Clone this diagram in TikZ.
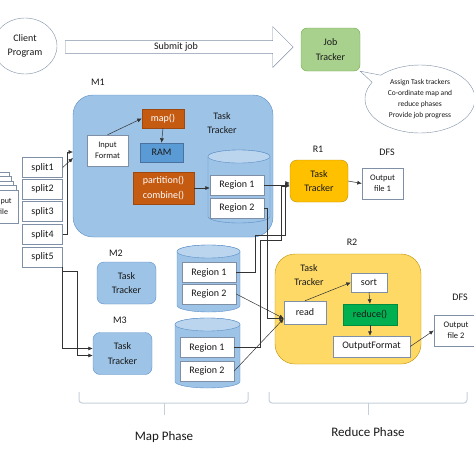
\documentclass[tikz,border=0pt]{standalone}
\usepackage{fontspec}
\setmainfont{Carlito}
\usetikzlibrary{positioning, calc, arrows.meta, shapes.geometric, shapes.arrows, shapes.callouts}

\definecolor{tbfill}{HTML}{9DC3E6}
\definecolor{tbdraw}{HTML}{5B8FC8}
\definecolor{ramfill}{HTML}{5B9BD5}
\definecolor{mapfill}{HTML}{C55A11}
\definecolor{rfill}{HTML}{FFC000}
\definecolor{rtwofill}{HTML}{FFD966}
\definecolor{rdraw}{HTML}{BF9000}
\definecolor{jtfill}{HTML}{A9D18E}
\definecolor{jtdraw}{HTML}{70AD47}
\definecolor{redfill}{HTML}{00B050}
\definecolor{boxdraw}{HTML}{7F8FA6}
\definecolor{bracecol}{HTML}{C5CED9}

\begin{document}
\begin{tikzpicture}[x=1pt, y=-1pt,
  every node/.style={font=\fontsize{10}{14.5}\selectfont, align=center, inner sep=0pt, text=black!90},
  tracker/.style={draw=tbdraw, fill=tbfill, rounded corners=7pt, minimum width=59pt, minimum height=42pt},
  whitebox/.style={draw=boxdraw, fill=white},
  region/.style={whitebox, minimum width=54pt, minimum height=20pt},
  splitbox/.style={whitebox, minimum width=40pt, minimum height=20pt},
  orangebox/.style={draw=mapfill!80!black, fill=mapfill, text=white},
  small/.style={font=\fontsize{8.5}{11.5}\selectfont},
  conn/.style={-{Latex[length=4.5pt,width=4pt]}, black!80, line width=0.5pt},
  brace/.style={draw=bracecol, line width=1pt, rounded corners=3pt}]
\useasboundingbox (0,0) rectangle (474,474);

% client and job tracker
\node[ellipse, draw=boxdraw, fill=white, minimum width=64pt, minimum height=56pt] (client) at (25,46) {Client\\Program};
\node[single arrow, draw=boxdraw, fill=white, minimum width=41pt, minimum height=228pt, single arrow head extend=10pt, anchor=west] (submit) at (65,47) {Submit job};
\node[draw=jtdraw, fill=jtfill, rounded corners=6pt, minimum width=59pt, minimum height=43pt] (jt) at (330.5,49.5) {Job\\Tracker};
\node[ellipse callout, draw=boxdraw, fill=white, minimum width=110pt, minimum height=68pt, callout absolute pointer={(jt.south east)}, font=\fontsize{7.5}{11}\selectfont] (bubble) at (420,99) {Assign Task trackers\\Co-ordinate map and\\reduce phases\\Provide job progress};

% input file and splits
\foreach \k in {4,...,1}
  \draw[draw=boxdraw, fill=white] ($(-12,190)+(-2.3*\k,-4.5*\k)$) rectangle +(30,33);
\node[whitebox, minimum width=30pt, minimum height=33pt, font=\fontsize{8}{11.5}\selectfont] (infile) at (3,206.5) {Input\\file};
\node[splitbox] (split1) at (42.5,167.5) {split1};
\node[splitbox] (split2) at (42.5,189) {split2};
\node[splitbox] (split3) at (42.5,211.5) {split3};
\node[splitbox] (split4) at (42.5,234.5) {split4};
\node[splitbox] (split5) at (42.5,257) {split5};

% M1
\node (m1lbl) at (98,82) {M1};
\node[tracker, rounded corners=20pt, minimum width=200pt, minimum height=142pt] (m1) at (173,166) {};
\node (m1tt) at (222,123) {Task\\Tracker};
\node[whitebox, small, minimum width=41pt, minimum height=31pt] (infmt) at (107.5,150.5) {Input\\Format};
\node[orangebox, minimum width=42pt, minimum height=19pt] (map) at (163,118.5) {map()};
\node[draw=tbdraw!80!black, fill=ramfill, minimum width=43pt, minimum height=19pt] (ram) at (161.5,152.5) {RAM};
\node[orangebox, minimum width=61pt, minimum height=32pt] (part) at (163.5,188) {partition()\\combine()};

% spill cylinders
\foreach \cx/\top/\bot/\rx in {239/156.5/216.5/31, 208.5/251.5/305.5/31.5, 207.5/324.5/381.5/32.5}{
  \draw[draw=tbdraw, fill=tbfill] (\cx-\rx,\top) -- (\cx-\rx,\bot) arc[start angle=180, end angle=0, x radius=\rx, y radius=6.5]
    -- (\cx+\rx,\top) arc[start angle=0, end angle=-180, x radius=\rx, y radius=6.5] -- cycle;
  \draw[draw=tbdraw, fill=tbfill!70!white] (\cx,\top) ellipse[x radius=\rx, y radius=6.5];
}
\node[region] (m1r1) at (237,185) {Region 1};
\node[region] (m1r2) at (237,208) {Region 2};

% M2 and M3
\node (m2lbl) at (116,253) {M2};
\node[tracker] (m2) at (126.5,283) {Task\\Tracker};
\node (m3lbl) at (120,320) {M3};
\node[tracker] (m3) at (122.5,353.5) {Task\\Tracker};
\node[region] (m2r1) at (209,272.5) {Region 1};
\node[region] (m2r2) at (209,294) {Region 2};
\node[region] (m3r1) at (207,347.5) {Region 1};
\node[region] (m3r2) at (207,371) {Region 2};

% R1
\node (r1lbl) at (318,149) {R1};
\node[draw=rdraw, fill=rfill, rounded corners=7pt, minimum width=58pt, minimum height=42pt] (r1) at (319,181) {Task\\Tracker};
\node (dfs1) at (387,152) {DFS};
\node[whitebox, small, minimum width=41pt, minimum height=31pt] (out1) at (382.5,183.5) {Output\\file 1};

% R2
\node (r2lbl) at (352,242) {R2};
\node[draw=rdraw, fill=rtwofill, rounded corners=20pt, minimum width=146pt, minimum height=110pt] (r2) at (348,309) {};
\node (r2tt) at (309,275) {Task\\Tracker};
\node[whitebox, minimum width=42pt, minimum height=23pt] (read) at (305,312.5) {read};
\node[whitebox, minimum width=36pt, minimum height=19pt] (sort) at (369,282.5) {sort};
\node[draw=redfill!80!black, fill=redfill, minimum width=54pt, minimum height=21pt] (reduce) at (370,314.5) {reduce()};
\node[whitebox, minimum width=77pt, minimum height=21pt] (outfmt) at (371.5,346.5) {OutputFormat};
\node (dfs2) at (460,297) {DFS};
\node[whitebox, small, minimum width=44pt, minimum height=31pt] (out2) at (456,330.5) {Output\\file 2};

% connectors
\coordinate (in1) at (73,158);
\coordinate (in2) at (73,152);
\coordinate (rdin) at ($(read.west)+(0,6)$);
\draw[conn] (split1.east) -- (in1);
\draw[conn] (split4.east) -- ++(5,0) |- (in2);
\draw[conn] (split5.south east) |- ($(m3.west)+(0,-5)$);
\draw[conn] ($(split5.south east)+(0,4)$) -- ++(15,0) |- ($(m3.west)+(0,2)$);
\draw[conn] (infmt.north) -- (map.west);
\draw[conn] (map.south) -- (ram.north);
\draw[conn] (part.east) -- (part.east -| m1r1.west);
\draw[conn] (m1r1.east) -- (m1r1.east -| r1.west);
\draw[conn] (m2r1.east) -- ++(19,0) -- ++(0,-37.5) -- ++(30,0) |- ($(r1.west)+(0,2)$);
\draw[conn] (m3r1.east) -- ++(26,0) -- ++(0,-107.5) -- ++(21,0) |- ($(r1.west)+(0,5)$);
\draw[conn] (m1r2.east) -- ++(3,0) |- (rdin);
\draw[conn] (m2r2.east) -- (rdin);
\draw[conn] (m3r2.east) -- (rdin);
\draw[conn] (r1.east) -- (out1.west);
\draw[conn] (read.north) -- (sort.west);
\draw[conn] (sort.south) -- (reduce.north);
\draw[conn] (reduce.south) -- (reduce.south |- outfmt.north);
\draw[conn] (outfmt.east) -- (out2.west);

% phases
\draw[brace] (79,392) -- (79,403) -- (248,403) -- (248,392);
\draw[brace] (164,403) -- (164,415);
\draw[brace] (269,392) -- (269,403) -- (467,403) -- (467,392);
\draw[brace] (368,403) -- (368,415);
\node[font=\fontsize{13}{15}\selectfont] (mapphase) at (164,437) {Map Phase};
\node[font=\fontsize{13}{15}\selectfont] (redphase) at (368,432) {Reduce Phase};
\end{tikzpicture}
\end{document}
